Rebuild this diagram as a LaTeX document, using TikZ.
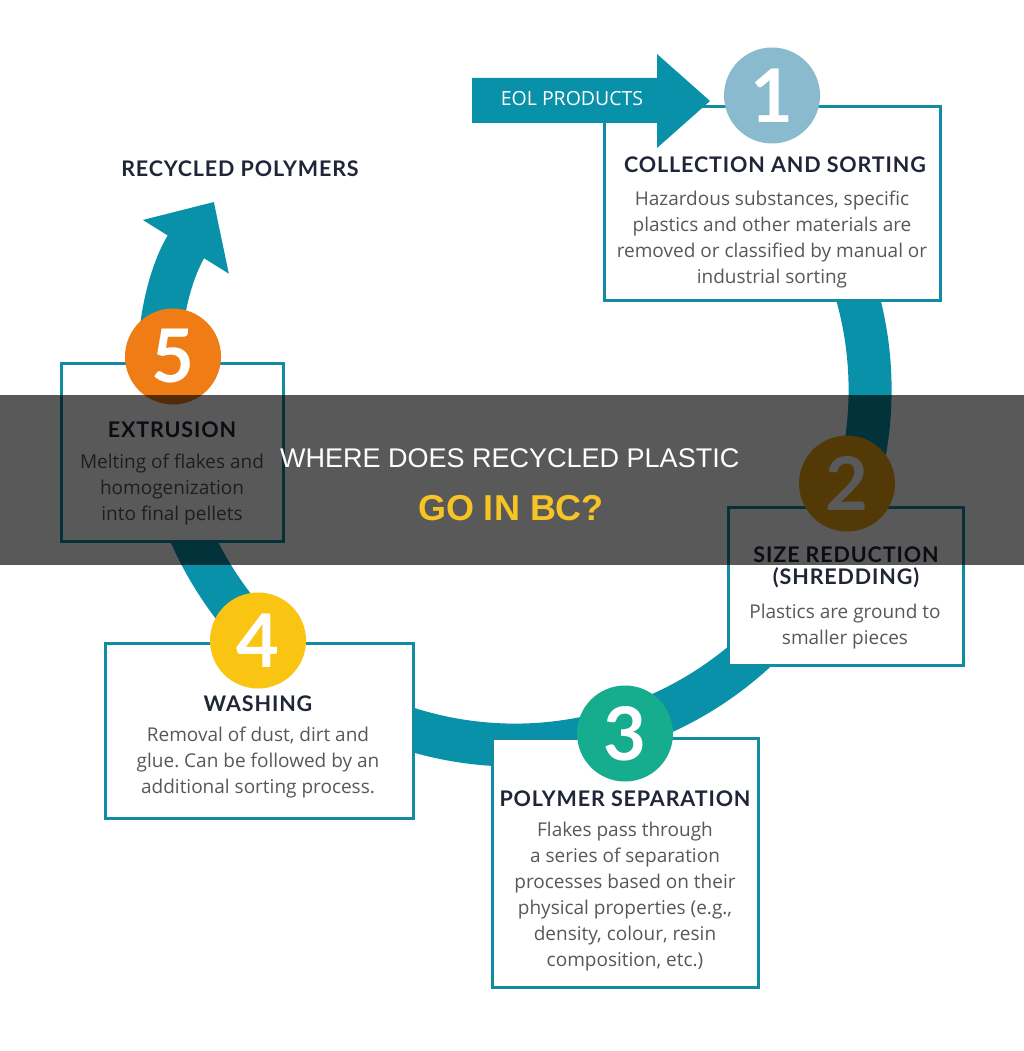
\documentclass[tikz,border=0pt]{standalone}
\usepackage{fontspec}
\setmainfont{Open Sans}
\newfontfamily\headfont[LetterSpace=4]{Lato}
\newfontfamily\digitfont{Lato}
\newfontfamily\bannerfont{Liberation Sans}
\frenchspacing
\usetikzlibrary{arrows.meta}
\definecolor{loopteal}{RGB}{8,145,168}
\definecolor{boxteal}{RGB}{18,140,160}
\definecolor{headnavy}{RGB}{32,38,56}
\definecolor{bodygray}{RGB}{88,88,88}
\definecolor{stepone}{RGB}{138,186,206}
\definecolor{steptwo}{RGB}{240,165,20}
\definecolor{stepthree}{RGB}{22,172,142}
\definecolor{stepfour}{RGB}{250,196,18}
\definecolor{stepfive}{RGB}{240,124,22}
\definecolor{banneryellow}{RGB}{246,196,36}

\begin{document}
\begin{tikzpicture}[
    x=1pt, y=-1pt,
    stepbox/.style={rectangle, draw=boxteal, fill=white, line width=3pt, inner sep=0pt},
    numdisc/.style={circle, minimum size=96pt, inner sep=0pt, text=white,
        font=\digitfont\bfseries\fontsize{74}{74}\selectfont},
    steptitle/.style={text=headnavy, align=center, inner sep=0pt,
        font=\headfont\bfseries\fontsize{21.5}{22}\selectfont},
    stepbody/.style={text=bodygray, align=center, inner sep=0pt, anchor=north,
        font=\fontsize{19}{26}\selectfont},
    ringpath/.style={draw=loopteal, line width=43pt},
]

% === Canvas ===
\useasboundingbox[fill=white] (0,0) rectangle (1024,1051);

% === Recycling loop ===
\coordinate (hub) at (515,390);
\draw[ringpath, -{Triangle[length=53pt, width=98pt]}]
    (hub) ++(-20:355) arc[start angle=-20, end angle=212, radius=355];

% === Step boxes ===
\node[stepbox, minimum width=336pt, minimum height=193pt] (box1) at (772,203.5) {};
\node[stepbox, minimum width=235pt, minimum height=158pt] (box2) at (845.5,586) {};
\node[stepbox, minimum width=266pt, minimum height=249pt] (box3) at (625,862.5) {};
\node[stepbox, minimum width=308pt, minimum height=175pt] (box4) at (259,730.5) {};
\node[stepbox, minimum width=222pt, minimum height=178pt] (box5) at (172,452) {};

% === EOL input arrow ===
\fill[loopteal] (472,78) -- (657,78) -- (657,54) -- (710,101)
    -- (657,148) -- (657,123) -- (472,123) -- cycle;
\node[text=white, inner sep=0pt, font=\fontsize{19.5}{20}\selectfont, anchor=base]
    (eol) at (572,105.5) {EOL PRODUCTS};

% === Number discs ===
\node[numdisc, fill=stepone]   (n1) at ([yshift=10pt]box1.north) {1};
\node[numdisc, fill=steptwo]   (n2) at ([yshift=22pt, xshift=1.5pt]box2.north) {2};
\node[numdisc, fill=stepthree] (n3) at ([yshift=3pt]box3.north) {3};
\node[numdisc, fill=stepfour]  (n4) at ([yshift=1pt, xshift=-1pt]box4.north) {4};
\node[numdisc, fill=stepfive]  (n5) at ([yshift=5pt, xshift=1pt]box5.north) {5};

% === Step texts ===
\node[steptitle, anchor=base] (t1) at (775,173) {COLLECTION AND SORTING};
\node[stepbody] (b1) at (772,190.5) {Hazardous substances, specific\\
    plastics and other materials are\\removed or classified by manual or\\industrial sorting};

\node[steptitle, anchor=north] (t2) at (846,546.7) {SIZE REDUCTION\\(SHREDDING)};
\node[stepbody] (b2) at (845,603.5) {Plastics are ground to\\smaller pieces};

\node[steptitle, anchor=base] (t3) at (625,806.7) {POLYMER SEPARATION};
\node[stepbody] (b3) at (625,822) {Flakes pass through\\a series of separation\\
    processes based on their\\physical properties (e.g.,\\density, colour, resin\\composition, etc.)};

\node[steptitle, anchor=base] (t4) at (258,711.7) {WASHING};
\node[stepbody] (b4) at (258,727) {Removal of dust, dirt and\\glue. Can be followed by an\\
    additional sorting process.};

\node[steptitle, anchor=base] (t5) at (172,437.3) {EXTRUSION};
\node[stepbody] (b5) at (172,453.5) {Melting of flakes and\\homogenization\\into final pellets};

% output label
\node[steptitle, anchor=base] (out) at (240,176.7) {RECYCLED POLYMERS};

% === Title banner ===
\fill[black, opacity=0.65] (0,395) rectangle (1024,565);
\node[text=white, inner sep=0pt, anchor=base west, font=\bannerfont\fontsize{27}{27}\selectfont]
    (ban1) at (280,467.3) {WHERE DOES RECYCLED PLASTIC};
\node[text=banneryellow, inner sep=0pt, anchor=base, font=\bannerfont\bfseries\fontsize{36}{36}\selectfont]
    (ban2) at (511,520) {GO IN BC?};

\end{tikzpicture}
\end{document}
